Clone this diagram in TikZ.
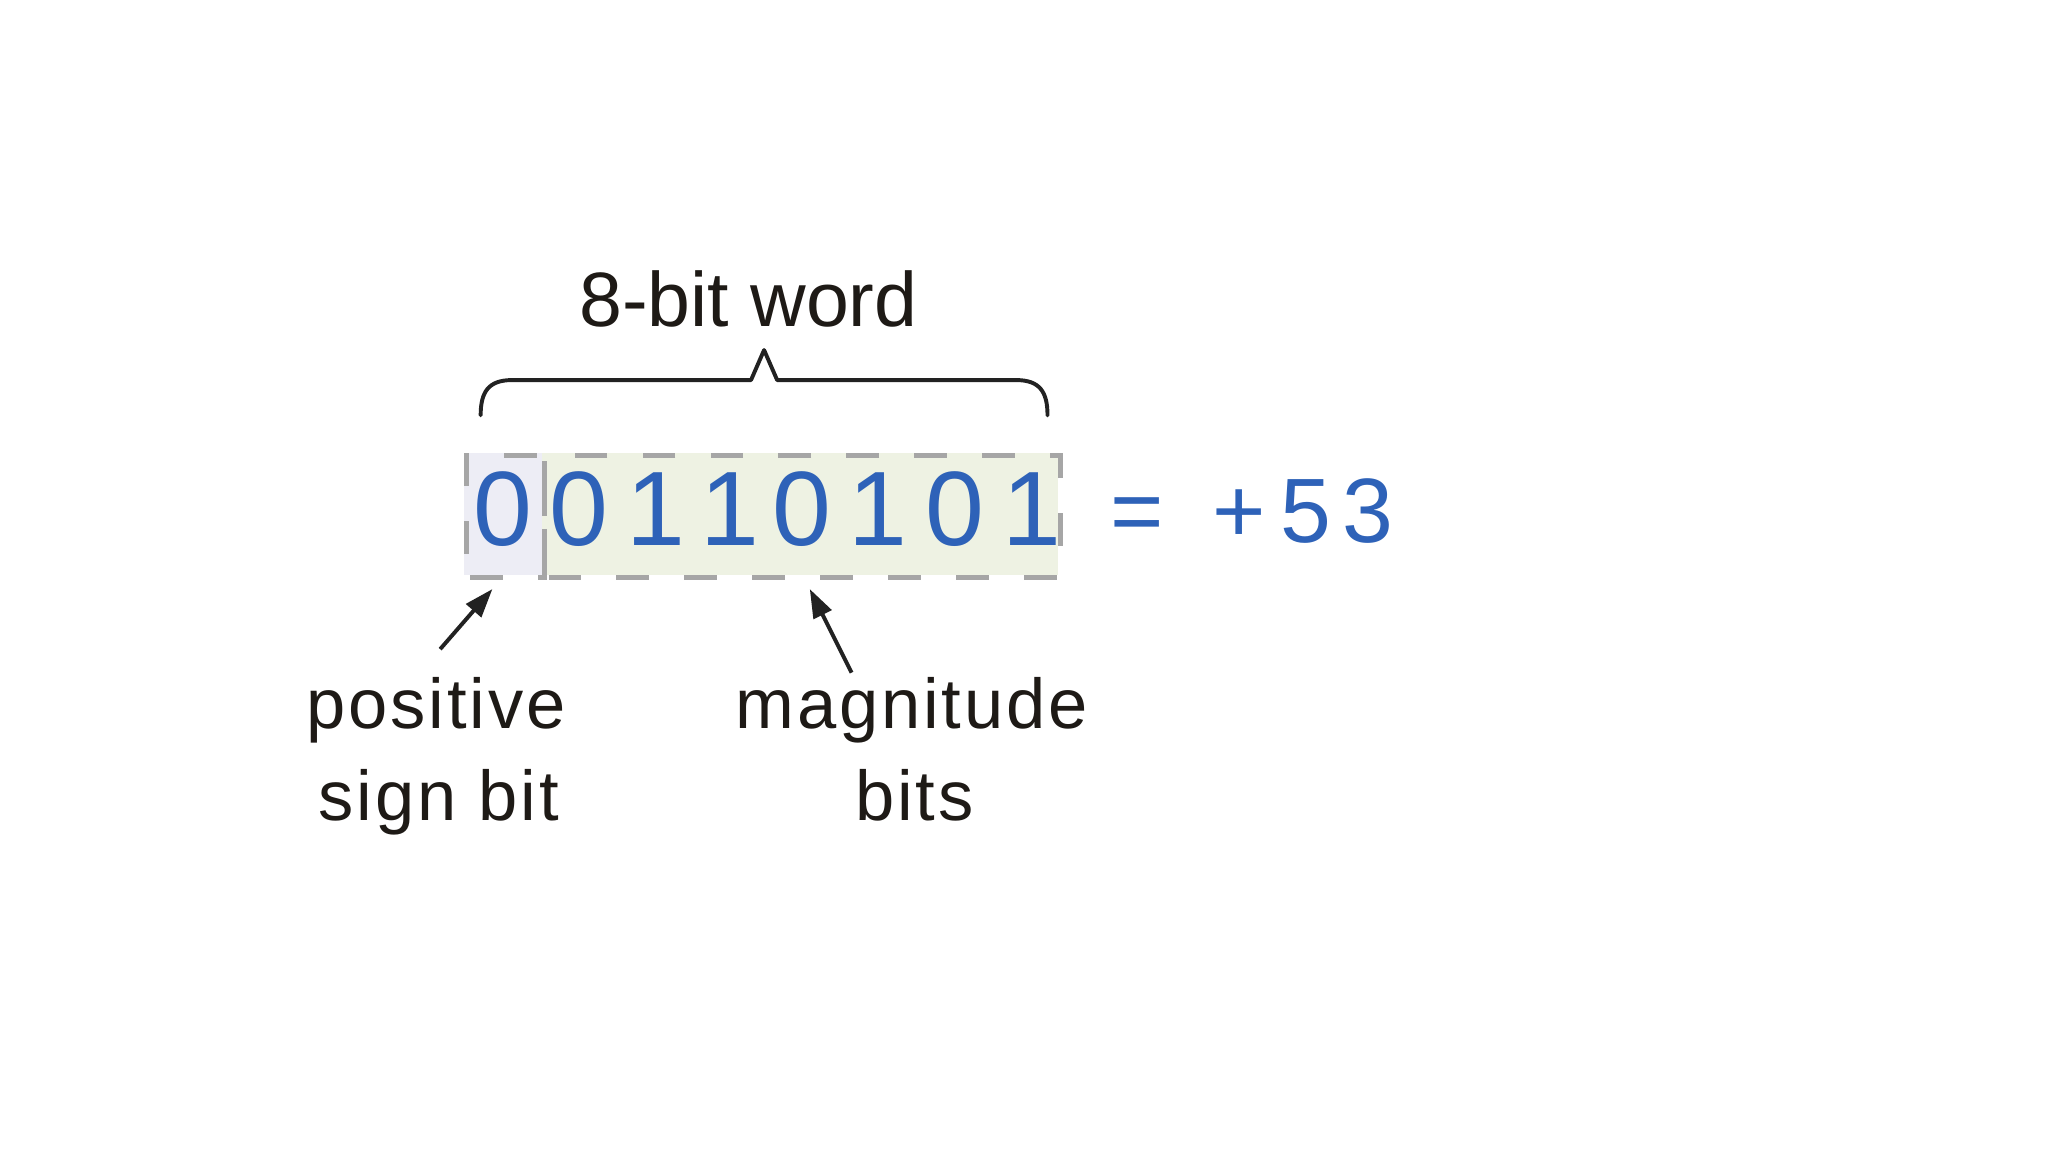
\documentclass[tikz,border=0pt]{standalone}
\usepackage{fontspec}
\setmainfont{Liberation Sans}
\newfontfamily\spacedfont[LetterSpace=4]{Liberation Sans}
\usetikzlibrary{arrows.meta}
\definecolor{digitblue}{HTML}{2E62B8}
\definecolor{labeltext}{HTML}{1E1A16}
\definecolor{boxedge}{HTML}{A6A6A6}
\definecolor{signfill}{HTML}{EDEDF5}
\definecolor{magfill}{HTML}{EEF2E3}
\definecolor{bracecol}{HTML}{222222}
\tikzset{
  lbl/.style={inner sep=0pt, anchor=base, text=labeltext, font=\spacedfont\fontsize{54}{60}\selectfont},
  bigtitle/.style={inner sep=0pt, anchor=base, text=labeltext, font=\fontsize{59}{70}\selectfont},
  digit/.style={inner sep=0pt, anchor=base, text=digitblue, font=\fontsize{81}{90}\selectfont},
  result/.style={inner sep=0pt, anchor=base, text=digitblue, font=\fontsize{70}{80}\selectfont},
  bitbox/.style={draw=boxedge, line width=4pt, dash pattern=on 25pt off 27pt, dash phase=-3pt},
  pointer/.style={draw=bracecol, line width=3pt, -{Triangle[length=22pt,width=15pt]}},
  bracestyle/.style={draw=bracecol, line width=3pt, line cap=round, line join=round}
}
\begin{document}
\begin{tikzpicture}[x=1pt,y=-1pt]
\useasboundingbox[fill=white] (0,0) rectangle (1568,882);
% boxes
\path[fill=signfill] (355,347) rectangle (415,440);
\path[fill=magfill] (415,347) rectangle (810,440);
\node[bitbox, minimum width=60pt, minimum height=93pt, inner sep=0pt, anchor=north west] (signbox) at (355,347) {};
\node[bitbox, minimum width=395pt, minimum height=93pt, inner sep=0pt, anchor=north west] (magbox) at (415,347) {};
% digits
\node[digit] (b7) at (385,418) {0};
\node[digit] (b6) at (443,418) {0};
\node[digit] (b5) at (502,418) {1};
\node[digit] (b4) at (559,418) {1};
\node[digit] (b3) at (614,418) {0};
\node[digit] (b2) at (672,418) {1};
\node[digit] (b1) at (731,418) {0};
\node[digit] (b0) at (790,418) {1};
% result
\node[result] (eq) at (871,415) {=};
\node[result] (plus) at (949,415) {+};
\node[result] (five) at (1000,415) {5};
\node[result] (three) at (1047,415) {3};
% title and brace
\node[bigtitle] (title) at (573,250) {8-bit word};
\coordinate (braceL) at (368,318);
\coordinate (braceTip) at (585,268);
\coordinate (braceR) at (802,318);
\draw[bracestyle] (braceL) .. controls (368,300) and (374,291) .. (392,291) -- (575,291) -- (braceTip) -- (595,291) -- (778,291) .. controls (796,291) and (802,300) .. (braceR);
% labels
\node[lbl] (pos1) at (334,558) {positive};
\node[lbl] (pos2) at (336,628) {sign bit};
\node[lbl] (mag1) at (698,558) {magnitude};
\node[lbl] (mag2) at (700,628) {bits};
% pointers
\coordinate (signTail) at (337,497);
\coordinate (signTip) at (377,451);
\coordinate (magTail) at (652,515);
\coordinate (magTip) at (620,451);
\draw[pointer] (signTail) -- (signTip);
\draw[pointer] (magTail) -- (magTip);
\end{tikzpicture}
\end{document}
